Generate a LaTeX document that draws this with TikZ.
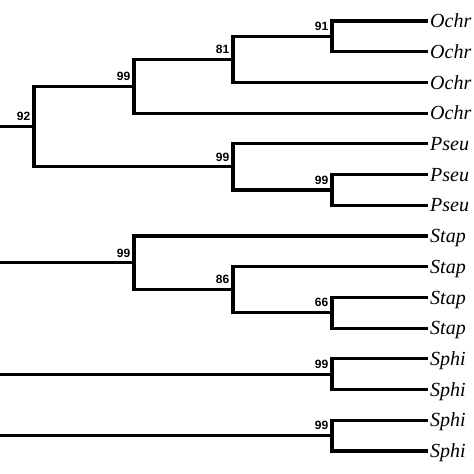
\documentclass[tikz,border=0pt]{standalone}
\usepackage{fontspec}
\setmainfont{Liberation Serif}
\setsansfont{Liberation Sans}
\usepackage{tikz}
\usetikzlibrary{positioning}

\begin{document}
\begin{tikzpicture}[
        x=1pt, y=-1pt,
        branch/.style={draw=black, line width=3.1pt, line join=miter},
        taxon/.style={anchor=west, inner sep=2pt, text height=13.2pt, text depth=0pt,
                      font=\fontsize{20}{20}\selectfont\itshape},
        boot/.style={inner sep=0pt, font=\fontsize{12}{12}\selectfont\sffamily\bfseries}
    ]
        \useasboundingbox (0,0) rectangle (474,474);
        \clip (0,0) rectangle (474,474);

        % leaves
        \node[taxon] (o1) at (428,21.0)  {Ochr};
        \node[taxon] (o2) at (428,51.7)  {Ochr};
        \node[taxon] (o3) at (428,82.4)  {Ochr};
        \node[taxon] (o4) at (428,113.1) {Ochr};
        \node[taxon] (p1) at (428,143.8) {Pseu};
        \node[taxon] (p2) at (428,174.6) {Pseu};
        \node[taxon] (p3) at (428,205.3) {Pseu};
        \node[taxon] (s1) at (428,236.0) {Stap};
        \node[taxon] (s2) at (428,266.7) {Stap};
        \node[taxon] (s3) at (428,297.4) {Stap};
        \node[taxon] (s4) at (428,328.1) {Stap};
        \node[taxon] (h1) at (428,358.8) {Sphi};
        \node[taxon] (h2) at (428,389.5) {Sphi};
        \node[taxon] (h3) at (428,420.2) {Sphi};
        \node[taxon] (h4) at (428,451.0) {Sphi};

        % internal nodes
        \coordinate (n91) at (332,36.4);
        \coordinate (n81) at (233,59.4);
        \coordinate (n99a) at (134,86.2);
        \coordinate (n99b) at (332,190.0);
        \coordinate (n99c) at (233,166.9);
        \coordinate (n92) at (34,126.6);
        \coordinate (n66) at (332,312.8);
        \coordinate (n86) at (233,289.7);
        \coordinate (n99d) at (134,262.9);
        \coordinate (n99e) at (332,374.2);
        \coordinate (n99f) at (332,435.6);
        \coordinate (edge) at (-4,0);

        % branches
        \draw[branch] (o1.west) -| (n91) |- (o2.west);
        \draw[branch] (n91) -| (n81) |- (o3.west);
        \draw[branch] (n81) -| (n99a) |- (o4.west);
        \draw[branch] (p2.west) -| (n99b) |- (p3.west);
        \draw[branch] (p1.west) -| (n99c) |- (n99b);
        \draw[branch] (n99a) -| (n92) |- (n99c);
        \draw[branch] (n92) -- (n92 -| edge);

        \draw[branch] (s3.west) -| (n66) |- (s4.west);
        \draw[branch] (s2.west) -| (n86) |- (n66);
        \draw[branch] (s1.west) -| (n99d) |- (n86);
        \draw[branch] (n99d) -- (n99d -| edge);

        \draw[branch] (h1.west) -| (n99e) |- (h2.west);
        \draw[branch] (n99e) -- (n99e -| edge);
        \draw[branch] (h3.west) -| (n99f) |- (h4.west);
        \draw[branch] (n99f) -- (n99f -| edge);

        % bootstrap values
        \node[boot, above left=5.5pt and 3.5pt of n91] (b91) {91};
        \node[boot, above left=5.5pt and 3.5pt of n81] (b81) {81};
        \node[boot, above left=5.5pt and 3.5pt of n99a] (b99a) {99};
        \node[boot, above left=5.5pt and 3.5pt of n99b] (b99b) {99};
        \node[boot, above left=5.5pt and 3.5pt of n99c] (b99c) {99};
        \node[boot, above left=5.5pt and 3.5pt of n92] (b92) {92};
        \node[boot, above left=5.5pt and 3.5pt of n66] (b66) {66};
        \node[boot, above left=5.5pt and 3.5pt of n86] (b86) {86};
        \node[boot, above left=5.5pt and 3.5pt of n99d] (b99d) {99};
        \node[boot, above left=5.5pt and 3.5pt of n99e] (b99e) {99};
        \node[boot, above left=5.5pt and 3.5pt of n99f] (b99f) {99};
    \end{tikzpicture}
\end{document}
